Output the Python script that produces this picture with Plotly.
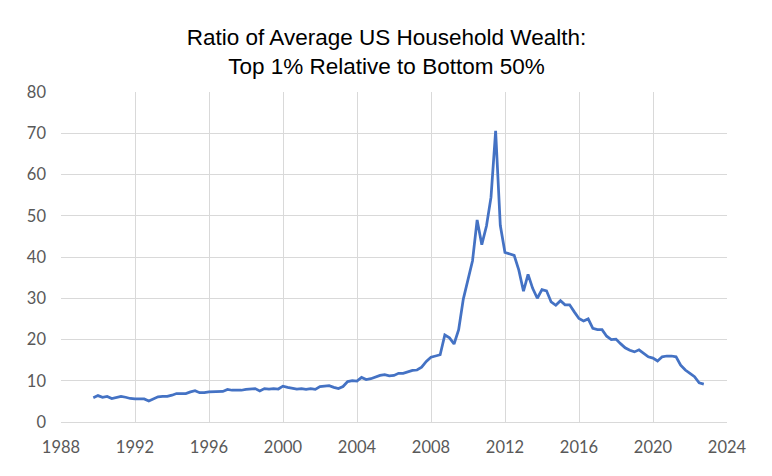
import pandas as pd
import plotly.graph_objects as go

# quarterly ratio, top 1% vs bottom 50% average household wealth
ratio_1989_1998 = [5.9, 6.4, 6.0, 6.2, 5.7, 6.0, 6.2, 6.0, 5.7, 5.6, 5.6, 5.6, 5.1, 5.6, 6.1, 6.2, 6.2, 6.5,
                   6.9, 6.9, 6.9, 7.3, 7.6, 7.1, 7.1, 7.3, 7.3, 7.3, 7.4, 7.9, 7.7, 7.7, 7.7, 7.9, 8.0]
ratio_1998_2006 = [8.1, 7.5, 8.1, 8.0, 8.1, 8.0, 8.7, 8.4, 8.2, 8.0, 8.1, 7.9, 8.1, 7.9, 8.6, 8.7, 8.8,
                   8.4, 8.1, 8.6, 9.8, 10.0, 9.9, 10.8, 10.3, 10.5, 11.0, 11.3, 11.5, 11.2, 11.3, 11.8,
                   11.8, 12.2]
ratio_2007_2011 = [12.5, 12.6, 13.3, 14.7, 15.7, 16.0, 16.3, 21.1, 20.4, 18.9, 22.4, 29.8, 34.6, 39.1,
                   49.0, 43.0, 47.5, 54.5, 70.6, 47.7]
ratio_2012_2017 = [41.1, 40.8, 40.4, 36.8, 31.7, 35.8, 32.4, 30.0, 32.1, 31.8, 29.1, 28.3, 29.4, 28.4,
                   28.4, 26.7, 25.1, 24.5, 25.0, 22.7, 22.4, 22.4]
ratio_2017_2022 = [20.8, 20.0, 20.1, 19.0, 18.0, 17.4, 17.0, 17.5, 16.6, 15.8, 15.5, 14.8, 15.8, 16.0,
                   16.0, 15.8, 13.8, 12.6, 11.8, 11.0, 9.5, 9.2]

ratio = ratio_1989_1998 + ratio_1998_2006 + ratio_2007_2011 + ratio_2012_2017 + ratio_2017_2022
quarters = pd.date_range("1989-09-30", periods=len(ratio), freq="QE")  # first obs 1989Q3

title_text = "Ratio of Average US Household Wealth:<br>Top 1% Relative to Bottom 50%"

fig = go.Figure()
fig.add_trace(go.Scatter(x=quarters, y=ratio, mode="lines",
                         line=dict(color="#4472C4", width=2.75)))

# LAYOUT ##########################################################################

# the page body adds an 8px offset, margins are set to compensate
tick_font = dict(family="Lato, Open Sans, sans-serif", size=16.5, color="#595959")

fig.update_layout(
    width=772, height=476,
    paper_bgcolor="white", plot_bgcolor="white",
    showlegend=False,
    margin=dict(l=53, r=53, t=84, b=62),
    title=dict(text=title_text, xref="container", x=378.5 / 772, xanchor="center",
               y=0.922, yanchor="top",
               font=dict(family="Liberation Sans, Arial, sans-serif", size=22.5, color="black")),
)
fig.update_xaxes(type="date", range=["1988-01-01", "2024-01-01"], tick0="1988-01-01", dtick="M48",
                 tickformat="%Y", showgrid=True, gridcolor="#D9D9D9", gridwidth=1.3,
                 showline=True, linecolor="#D9D9D9", linewidth=1.3, ticks="", tickfont=tick_font,
                 zeroline=False, ticklabelstandoff=10)
fig.update_yaxes(range=[0, 80], dtick=10, showgrid=True, gridcolor="#D9D9D9", gridwidth=1.3,
                 showline=False, ticks="", tickfont=tick_font, zeroline=False, ticklabelstandoff=14)

fig.write_html("out.html")
